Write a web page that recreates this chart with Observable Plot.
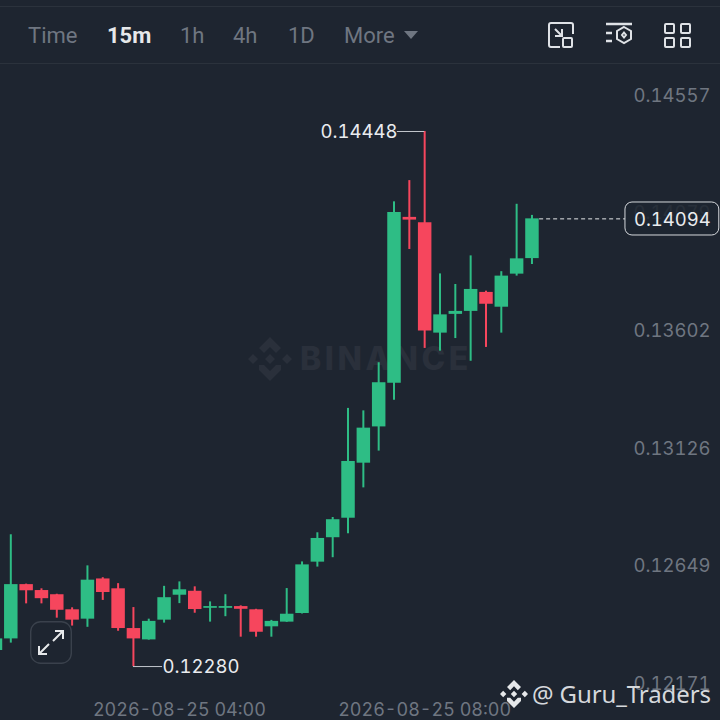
<!DOCTYPE html>
<html><head><meta charset="utf-8">
<script src="https://cdn.jsdelivr.net/npm/d3@7"></script>
<script src="https://cdn.jsdelivr.net/npm/@observablehq/plot@0.6"></script>
<style>
html,body{margin:0;padding:0;background:#1e2530;}
#wrap{position:relative;width:720px;height:720px;overflow:hidden;background:#1e2530;font-family:Inter,sans-serif;}
#bar{position:absolute;left:0;top:6px;width:720px;height:58px;border-top:1.5px solid #2b323c;border-bottom:1.5px solid #2b323c;box-sizing:border-box;}
.tf{position:absolute;top:35px;transform:translateY(-50%);font:400 22px Roboto,sans-serif;color:#6f7681;white-space:nowrap;}
.abs{position:absolute;}
#plot{position:absolute;left:0;top:65px;}
#plot svg{background:transparent;display:block;}
</style></head>
<body><div id="wrap">
<div id="bar"></div>
<span class="tf" style="left:28px">Time</span>
<span class="tf" style="left:107px;color:#e6e8ea;font-weight:700">15m</span>
<span class="tf" style="left:180px">1h</span>
<span class="tf" style="left:233px">4h</span>
<span class="tf" style="left:288px">1D</span>
<span class="tf" style="left:344px">More</span>
<svg class="abs" style="left:0;top:0" width="720" height="64" fill="none" stroke="#dfe2e6" stroke-width="2">
<path d="M404 31h14l-7 8z" fill="#6f7681" stroke="none"/>
<path d="M560 47h-9a2 2 0 0 1-2-2v-20a2 2 0 0 1 2-2h20a2 2 0 0 1 2 2v9"/><path d="M553 29l7 7M560 29v7h-7" transform="translate(2 0)"/><rect x="563" y="38" width="9" height="9" rx="1"/>
<path d="M606 24h26M606 33h6M606 41h6" stroke-width="2.500"/><path d="M624 27l7 4v8l-7 4-7-4v-8z"/><path d="M624 32.500l2 2.500-2 2.500-2-2.500z"/>
<rect x="665" y="24" width="9" height="9" rx="1"/><rect x="681" y="24" width="9" height="9" rx="1"/><rect x="665" y="38" width="9" height="9" rx="1"/><rect x="681" y="38" width="9" height="9" rx="1"/>
</svg>
<svg class="abs" style="left:248px;top:337px" width="44" height="44" viewBox="0 0 44 44" fill="#2a303b">
<path d="M22 0l11 11-5 5-6-6-6 6-5-5zM5 17l5 5-5 5-5-5zM39 17l5 5-5 5-5-5zM22 17l5 5-5 5-5-5zM11 28l5-0 6 6 6-6 5 0 0 5-11 11-11-11z"/></svg>
<div class="abs" style="left:300px;top:339px;font:800 32px Inter,sans-serif;letter-spacing:3.500px;color:#2a303b">BINANCE</div>
<div id="plot"></div>
<svg class="abs" style="left:30px;top:621px" width="42" height="43" fill="none">
<rect x="0.700" y="0.700" width="40.600" height="41.600" rx="10" stroke="#3a414c" stroke-width="1.400"/>
<path d="M23 20l10-10M25 10h8v8M19 23l-10 10M9 25v8h8" stroke="#e6e8ea" stroke-width="2"/></svg>
<svg class="abs" style="left:500px;top:680px" width="28" height="28" viewBox="0 0 44 44" fill="#e6e8ea">
<path d="M22 0l11 11-5 5-6-6-6 6-5-5zM5 17l5 5-5 5-5-5zM39 17l5 5-5 5-5-5zM22 17l5 5-5 5-5-5zM11 28l5 0 6 6 6-6 5 0 0 5-11 11-11-11z"/></svg>
<div class="abs" style="left:532px;top:677px;font:400 24px 'Noto Sans',sans-serif;color:#d5d8dc;white-space:nowrap;letter-spacing:-.1px">@ Guru_Traders</div>
</div>
<script>
const opens  = [.12345,.12392,.12612,.12588,.12571,.12510,.12472,.12635,.12595,.12434,.12388,.12468,.12569,.12585,.12516,.12516,.12523,.12510,.12441,.12460,.12495,.12703,.12802,.12881,.13104,.13251,.13428,.14100,.14078,.13631,.13707,.13719,.13796,.13736,.13870,.13933];
const highs  = [.12400,.12814,.12614,.12595,.12573,.12518,.12688,.12640,.12616,.12519,.12472,.12605,.12623,.12603,.12542,.12571,.12526,.12512,.12467,.12596,.12704,.12822,.12884,.13326,.13316,.13511,.14163,.14249,.14448,.13871,.13828,.13944,.13801,.13880,.14153,.14108];
const lows   = [.12330,.12375,.12534,.12534,.12476,.12444,.12439,.12548,.12423,.12280,.12387,.12456,.12535,.12496,.12460,.12482,.12399,.12399,.12399,.12459,.12493,.12683,.12721,.12818,.13004,.13153,.13359,.13970,.13569,.13558,.13609,.13517,.13573,.13631,.13862,.13909];
const closes = [.12392,.12612,.12587,.12555,.12508,.12468,.12630,.12580,.12434,.12392,.12463,.12559,.12591,.12511,.12523,.12523,.12512,.12419,.12463,.12492,.12692,.12799,.12875,.13111,.13246,.13430,.14120,.14089,.13640,.13705,.13719,.13808,.13748,.13862,.13932,.14094];
const priceTicks = [.14557,.14079,.13602,.13126,.12649,.12171];
const timeTicks = ["2026-08-25T04:00:00Z","2026-08-25T08:00:00Z"].map(d=>new Date(d));
const lastPrice = .14094;

const T0 = Date.UTC(2026,7,25,1,0), STEP = 15*60000;
const t = i => new Date(T0 + i*STEP);
const candles = opens.map((o,i)=>({time:t(i),open:o,high:highs[i],low:lows[i],close:closes[i]}));
const col = d => d.close>=d.open ? "#2ebd85" : "#f6465d";
const pad = n => String(n).padStart(2,"0");
const fmtT = d => `${d.getUTCFullYear()}-${pad(d.getUTCMonth()+1)}-${pad(d.getUTCDate())} ${pad(d.getUTCHours())}:${pad(d.getUTCMinutes())}`;
const font = "Inter, sans-serif";
const highNote = [{price:.14448, at:28, to:26.22}];
const lowNote = [{price:.12280, at:9, to:10.9}];
const notes = [...highNote, ...lowNote];
const label = {text:d=>d.price.toFixed(5),y:"price",x:d=>t(d.to),fontSize:18.500,fill:"#eaecef",dy:1,fontVariant:"tabular-nums"};
const chart = Plot.plot({
  width:720,height:655,margin:0,
  style:{background:"transparent",fontFamily:font},
  x:{type:"utc",domain:[t(0.328),t(47.3)],range:[0,720]},
  y:{domain:[.120614,.147154],range:[655,0]},
  marks:[
    Plot.axisY(priceTicks,{anchor:"right",tickSize:0,tickPadding:-10,textAnchor:"end",dy:-9,fontSize:18.500,fill:"#6f7681",tickFormat:d=>d.toFixed(5),label:null}),
    Plot.axisX(timeTicks,{anchor:"bottom",tickSize:0,tickPadding:0,dy:-17,fontSize:18,fill:"#6f7681",tickFormat:fmtT,label:null}),
    Plot.ruleX(candles,{x:"time",y1:"low",y2:"high",stroke:col,strokeWidth:2}),
    Plot.ruleX(candles,{x:"time",y1:"open",y2:"close",stroke:col,strokeWidth:13.500}),
    Plot.ruleY(notes,{y:"price",x1:d=>t(d.at),x2:d=>t(d.to),stroke:"#c4c8ce",strokeWidth:1}),
    Plot.text(highNote,{...label,textAnchor:"end"}),
    Plot.text(lowNote,{...label,textAnchor:"start"}),
    Plot.ruleY([lastPrice],{x1:t(35.5),x2:t(41.1),stroke:"#e6e8ea",strokeWidth:1,strokeDasharray:"4,3"}),
    Plot.rect([lastPrice],{x1:t(41.1),x2:t(47.22),y1:.140266,y2:.141603,rx:7,fill:"#1e2530",fillOpacity:.88,stroke:"#d5d8dc",strokeWidth:1}),
    Plot.text([lastPrice],{x:t(44.16),y:d=>d,text:d=>d.toFixed(5),fontSize:18.500,fill:"#eaecef",dy:1,fontVariant:"tabular-nums"})
  ]
});
document.getElementById("plot").appendChild(chart);
</script>
</body></html>
